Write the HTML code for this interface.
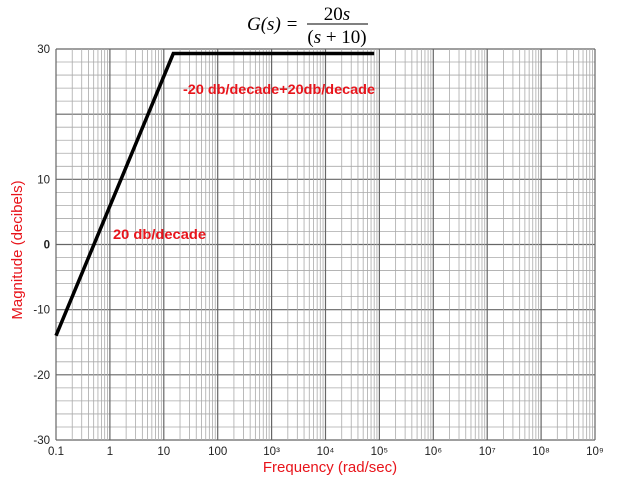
<!DOCTYPE html>
<html><head><meta charset="utf-8"><style>
body{margin:0;background:#fff;}
svg{display:block;}
</style></head><body>
<svg width="638" height="478" viewBox="0 0 638 478" xmlns="http://www.w3.org/2000/svg">
<g font-family="Liberation Serif, serif" font-size="19" fill="#000">
<text x="247" y="30" font-style="italic">G(s) =</text>
<text x="337" y="20" text-anchor="middle">20<tspan font-style="italic">s</tspan></text>
<line x1="307" y1="24" x2="368" y2="24" stroke="#000" stroke-width="1"/>
<text x="337" y="43" text-anchor="middle">(<tspan font-style="italic">s</tspan> + 10)</text>
</g>
<g id="grid"></g>
<g id="ticks" font-family="Liberation Sans, sans-serif" font-size="11.5" fill="#222"></g>
<path id="line" fill="none" stroke="#000" stroke-width="3.5" stroke-linejoin="miter"/>
<text x="183" y="94" fill="#e8141b" font-family="Liberation Sans, sans-serif" font-weight="bold" font-size="14" textLength="192" lengthAdjust="spacingAndGlyphs">-20 db/decade+20db/decade</text>
<text x="113" y="239" fill="#e8141b" font-family="Liberation Sans, sans-serif" font-weight="bold" font-size="14" textLength="93" lengthAdjust="spacingAndGlyphs">20 db/decade</text>
<text x="330" y="472" text-anchor="middle" fill="#e8141b" font-family="Liberation Sans, sans-serif" font-size="15">Frequency (rad/sec)</text>
<text transform="translate(22,250) rotate(-90)" text-anchor="middle" fill="#e8141b" font-family="Liberation Sans, sans-serif" font-size="15">Magnitude (decibels)</text>
</svg>
<script>
const xDecades=[-1,0,1,2,3,4,5,6,7,8,9];
const xTickLabels=["0.1","1","10","100","10³","10⁴","10⁵","10⁶","10⁷","10⁸","10⁹"];
const yTicks=[30,10,0,-10,-20,-30];
const yTickLabels=["30","10","0","-10","-20","-30"];
const lineFreq=[0.1,15,80000];
const lineDb=[-14,29.3,29.3];
const L=56,R=595,T=49,B=440;
const xs=f=>L+(Math.log10(f)+1)/10*(R-L);
const ys=d=>B-(d+30)/60*(B-T);
const NS="http://www.w3.org/2000/svg";
const grid=document.getElementById('grid'),ticks=document.getElementById('ticks');
function ln(x1,y1,x2,y2,c,w){const l=document.createElementNS(NS,'line');l.setAttribute('x1',x1);l.setAttribute('y1',y1);l.setAttribute('x2',x2);l.setAttribute('y2',y2);l.setAttribute('stroke',c);l.setAttribute('stroke-width',w);


grid.appendChild(l);}
for(let d=-30;d<=30;d+=2){const y=ys(d);ln(L,y,R,y,d%10===0?'#666':'#aaa',d%10===0?1.2:0.8);}
for(let e=-1;e<9;e++){for(let m=1;m<10;m++){const x=xs(m*Math.pow(10,e));ln(x,T,x,B,m===1?'#666':'#aaa',m===1?1.2:0.8);}}
ln(R,T,R,B,'#666',1.2);
xDecades.forEach((e,i)=>{const t=document.createElementNS(NS,'text');t.setAttribute('x',xs(Math.pow(10,e)));t.setAttribute('y',B+15);t.setAttribute('text-anchor','middle');t.textContent=xTickLabels[i];


ticks.appendChild(t);});
yTicks.forEach((v,i)=>{const t=document.createElementNS(NS,'text');t.setAttribute('x',L-6);t.setAttribute('y',ys(v)+4);t.setAttribute('text-anchor','end');if(v===0)t.setAttribute('font-weight','bold');t.textContent=yTickLabels[i];


ticks.appendChild(t);});
document.getElementById('line').setAttribute('d',lineFreq.map((f,i)=>(i?'L':'M')+xs(f)+','+ys(lineDb[i])).join(' '));
</script>
</body></html>
